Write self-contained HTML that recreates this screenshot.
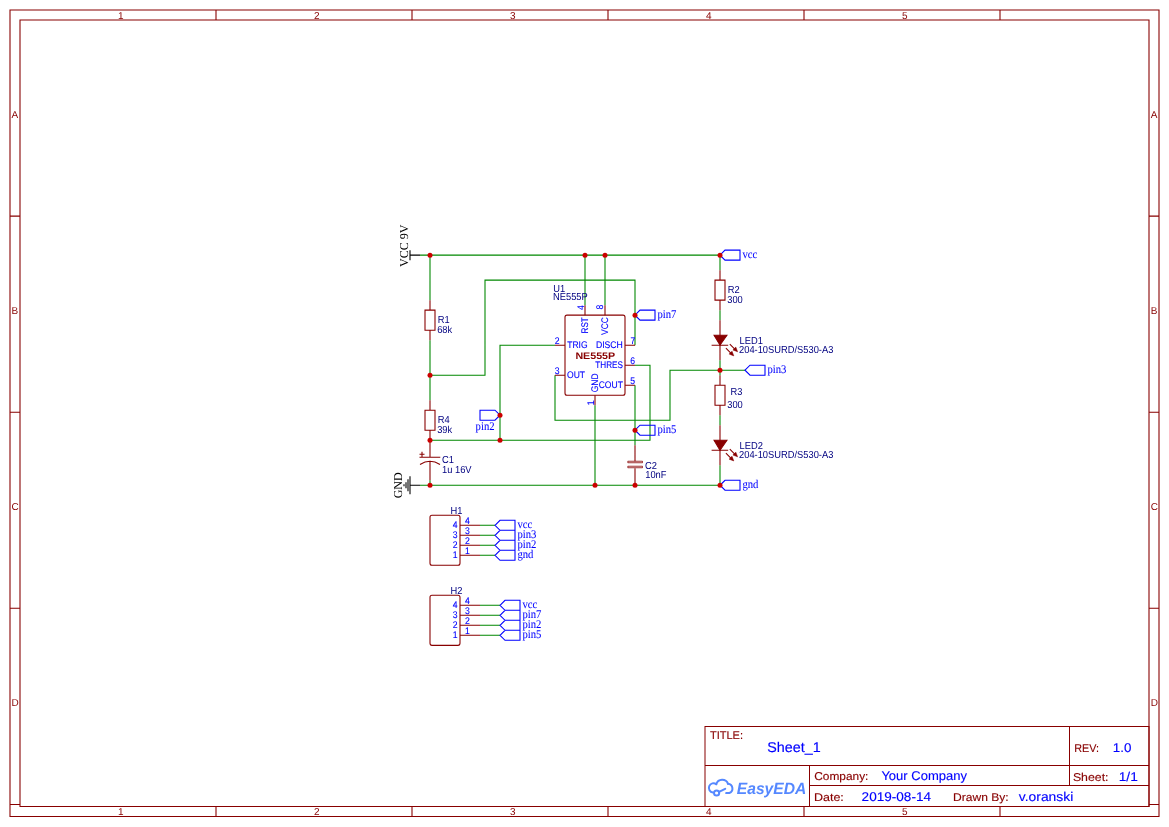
<!DOCTYPE html>
<html><head><meta charset="utf-8"><title>Sheet_1</title>
<style>html,body{margin:0;padding:0;background:#fff;overflow:hidden}svg{display:block;position:absolute;left:0;top:0}text{font-family:"Liberation Sans",sans-serif;white-space:pre;text-rendering:geometricPrecision}.se text{font-family:"Liberation Serif",serif}</style></head><body>
<svg width="1169" height="827" viewBox="0 0 1169 827" style="will-change:transform">
<rect x="0" y="0" width="1169" height="827" fill="#ffffff"/>
<g transform="matrix(1 0 0 1.00053 0 -0.0053)">
<g fill="none" stroke="#880000" stroke-width="1.08">
<path d="M10 10H1159V816H10Z"/>
<path d="M20 20H1149V806H20Z"/>
<path d="M216 10V20M216 806V816M412 10V20M412 806V816M608 10V20M608 806V816M804 10V20M804 806V816M1000 10V20M1000 806V816M10 216H20M1149 216H1159M10 412H20M1149 412H1159M10 608H20M1149 608H1159M10 804H20M1149 804H1159"/>
</g>
<g fill="none" stroke="#880000" stroke-width="1">
<path d="M705 726H1149V806H705Z"/>
<path d="M705 765H1149M809.5 765V806M809.5 785H1149M1069.5 726V785"/>
</g>
<path fill="none" stroke="#008800" stroke-width="1.08" d="M420 255H720M430 255V300M430 340V400M430 375H485V280H635V345M585 255V305M605 255V305M555 345H500V440M430 440H650V365H635M555 375V420H670V370H745M635 385V445M595 405V485M420 485H720M720 255V270M720 310V320M720 360V375M720 415V425M720 465V485M430 480V485M480 525H495M480 535H495M480 545H495M480 555H495M480 605H500M480 615H500M480 625H500M480 635H500"/>
<g fill="none" stroke="#880000" stroke-width="1.08">
<path d="M430 300V310M425 310H435V330H425ZM430 330V340M430 400V410M425 410H435V430H425ZM430 430V440M720 270V280M715 280H725V300H715ZM720 300V310M720 375V385M715 385H725V405H715ZM720 405V415M430 440V457M419.5 457H440.3M419.5 454H424.5M422 451.5V456.5M420 464.3Q430 457.7 440 464.3M430 461V480M635 445V461M635 468V485M585 305V315M605 305V315M555 345H565M555 375H565M625 345H635M625 365H635M625 385H635M595 395V405M460 525H480M460 535H480M460 545H480M460 555H480M460 605H480M460 615H480M460 625H480M460 635H480M720 320V360M711.6 345H728.2M729.8 343.9L735 349.1M725.9 348L731.1 353.2M720 425V465M711.6 450H728.2M729.8 448.9L735 454.1M725.9 453L731.1 458.2"/>
<rect x="565" y="315" width="60" height="80" rx="2" ry="2"/>
<path d="M627.8 461H642.5V462.5H627.8ZM627.8 466H642.5V467.5H627.8Z" stroke-width="0.8"/>
<rect x="430" y="515" width="30" height="50" rx="2" ry="2"/>
<rect x="430" y="595" width="30" height="50" rx="2" ry="2"/>
</g>
<g fill="#880000" stroke="#880000" stroke-width="1" stroke-linejoin="miter">
<path d="M714 335H727L720 345Z"/>
<path d="M737.6 351.6L732.9 349.8L735.8 346.9Z" stroke-width="0.5"/>
<path d="M733.8 355.7L729.1 353.9L732 351Z" stroke-width="0.5"/>
<path d="M714 440H727L720 450Z"/>
<path d="M737.6 456.6L732.9 454.8L735.8 451.9Z" stroke-width="0.5"/>
<path d="M733.8 460.7L729.1 458.9L732 456Z" stroke-width="0.5"/>
</g>
<path fill="none" stroke="#000000" stroke-width="1.08" d="M410 250V260M410 255H420M410 476V494M408 479V491M406 482V488M404 484V486M410 485H420"/>
<path fill="none" stroke="#0000ff" stroke-width="1.08" stroke-linejoin="miter" d="M720 255L725 250H740V260H725ZM635 315L640 310H655V320H640ZM745 370L750 365H765V375H750ZM635 430L640 425H655V435H640ZM720 485L725 480H740V490H725ZM500 415L495 410H480V420H495ZM495 525L500 520H515V530H500ZM495 535L500 530H515V540H500ZM495 545L500 540H515V550H500ZM495 555L500 550H515V560H500ZM500 605L505 600H520V610H505ZM500 615L505 610H520V620H505ZM500 625L505 620H520V630H505ZM500 635L505 630H520V640H505Z"/>
<g fill="#cc0000"><circle cx="430" cy="255" r="2.5"/><circle cx="585" cy="255" r="2.5"/><circle cx="605" cy="255" r="2.5"/><circle cx="720" cy="255" r="2.5"/><circle cx="635" cy="315" r="2.5"/><circle cx="430" cy="375" r="2.5"/><circle cx="500" cy="415" r="2.5"/><circle cx="430" cy="440" r="2.5"/><circle cx="500" cy="440" r="2.5"/><circle cx="635" cy="430" r="2.5"/><circle cx="720" cy="370" r="2.5"/><circle cx="430" cy="485" r="2.5"/><circle cx="595" cy="485" r="2.5"/><circle cx="635" cy="485" r="2.5"/><circle cx="720" cy="485" r="2.5"/></g>
</g>
<g fill="#880000" font-size="10">
<text x="118.0" y="18.8">1</text><text x="118.0" y="814.8">1</text>
<text x="314.0" y="18.8">2</text><text x="314.0" y="814.8">2</text>
<text x="510.0" y="18.8">3</text><text x="510.0" y="814.8">3</text>
<text x="706.0" y="18.8">4</text><text x="706.0" y="814.8">4</text>
<text x="902.0" y="18.8">5</text><text x="902.0" y="814.8">5</text>
<text x="11.6" y="118.0">A</text><text x="1150.8" y="118.0">A</text>
<text x="11.6" y="314.1">B</text><text x="1150.8" y="314.1">B</text>
<text x="11.6" y="510.2">C</text><text x="1150.8" y="510.2">C</text>
<text x="11.6" y="706.3">D</text><text x="1150.8" y="706.3">D</text>
</g>
<text x="709.9" y="739.2" font-size="11.3" fill="#880000" stroke="#880000" stroke-width="0.14" textLength="33.1" lengthAdjust="spacingAndGlyphs">TITLE:</text>
<text x="767.3" y="751.8" font-size="14.1" fill="#0000ff" stroke="#0000ff" stroke-width="0.14" textLength="53.5" lengthAdjust="spacingAndGlyphs">Sheet_1</text>
<text x="1074.3" y="752.4" font-size="11.3" fill="#880000" stroke="#880000" stroke-width="0.14" textLength="24.8" lengthAdjust="spacingAndGlyphs">REV:</text>
<text x="1112.8" y="752.4" font-size="12.7" fill="#0000ff" stroke="#0000ff" stroke-width="0.14" textLength="18.6" lengthAdjust="spacingAndGlyphs">1.0</text>
<text x="814.2" y="779.7" font-size="11.3" fill="#880000" stroke="#880000" stroke-width="0.14" textLength="54.2" lengthAdjust="spacingAndGlyphs">Company:</text>
<text x="881.4" y="779.7" font-size="12.7" fill="#0000ff" stroke="#0000ff" stroke-width="0.14" textLength="85.6" lengthAdjust="spacingAndGlyphs">Your Company</text>
<text x="1072.9" y="781.4" font-size="11.3" fill="#880000" stroke="#880000" stroke-width="0.14" textLength="35.6" lengthAdjust="spacingAndGlyphs">Sheet:</text>
<text x="1118.7" y="781.4" font-size="12.7" fill="#0000ff" stroke="#0000ff" stroke-width="0.14" textLength="19.1" lengthAdjust="spacingAndGlyphs">1/1</text>
<text x="814.0" y="801.3" font-size="11.3" fill="#880000" stroke="#880000" stroke-width="0.14" textLength="29.8" lengthAdjust="spacingAndGlyphs">Date:</text>
<text x="861.6" y="801.3" font-size="12.7" fill="#0000ff" stroke="#0000ff" stroke-width="0.14" textLength="69.4" lengthAdjust="spacingAndGlyphs">2019-08-14</text>
<text x="953.1" y="801.3" font-size="11.3" fill="#880000" stroke="#880000" stroke-width="0.14" textLength="55.6" lengthAdjust="spacingAndGlyphs">Drawn By:</text>
<text x="1018.8" y="801.3" font-size="12.7" fill="#0000ff" stroke="#0000ff" stroke-width="0.14" textLength="54.5" lengthAdjust="spacingAndGlyphs">v.oranski</text>
<g fill="none" stroke="#5588ff" stroke-width="2" stroke-linecap="round" stroke-linejoin="round">
<path d="M716.3 784.2A4.6 4.6 0 1 0 712.9 792.4"/>
<path d="M716.3 784.2A6.2 6.2 0 0 1 728 783.8"/>
<path d="M728 783.8A4.75 4.75 0 0 1 729.3 793L726.2 793.1"/>
<circle cx="716.6" cy="793" r="2.6"/>
<path d="M719 791.8L725.2 788.8"/>
</g>
<text x="736.8" y="794.4" font-size="16.3" font-weight="bold" font-style="italic" fill="#5588ff" textLength="69.5" lengthAdjust="spacingAndGlyphs">EasyEDA</text>
<g class="se" font-size="11.8" fill="#0000ff" stroke="#0000ff" stroke-width="0.05">
<text x="742.4" y="258" textLength="14.81" lengthAdjust="spacingAndGlyphs">vcc</text>
<text x="657.4" y="318" textLength="18.97" lengthAdjust="spacingAndGlyphs">pin7</text>
<text x="767.4" y="373" textLength="18.97" lengthAdjust="spacingAndGlyphs">pin3</text>
<text x="657.4" y="433" textLength="18.97" lengthAdjust="spacingAndGlyphs">pin5</text>
<text x="742.4" y="488" textLength="16.00" lengthAdjust="spacingAndGlyphs">gnd</text>
<text x="475.6" y="430" textLength="18.97" lengthAdjust="spacingAndGlyphs">pin2</text>
<text x="517.4" y="528" textLength="14.81" lengthAdjust="spacingAndGlyphs">vcc</text>
<text x="517.4" y="538" textLength="18.97" lengthAdjust="spacingAndGlyphs">pin3</text>
<text x="517.4" y="548" textLength="18.97" lengthAdjust="spacingAndGlyphs">pin2</text>
<text x="517.4" y="558" textLength="16.00" lengthAdjust="spacingAndGlyphs">gnd</text>
<text x="522.4" y="608" textLength="14.81" lengthAdjust="spacingAndGlyphs">vcc</text>
<text x="522.4" y="618" textLength="18.97" lengthAdjust="spacingAndGlyphs">pin7</text>
<text x="522.4" y="628" textLength="18.97" lengthAdjust="spacingAndGlyphs">pin2</text>
<text x="522.4" y="638" textLength="18.97" lengthAdjust="spacingAndGlyphs">pin5</text>
</g>
<g class="se" font-size="12" fill="#000000">
<text transform="translate(408.4 267.0) rotate(-90)">VCC 9V</text>
<text transform="translate(401.8 498.3) rotate(-90)">GND</text>
</g>
<g font-size="10.2" fill="#000080">
<text x="553.3" y="292" textLength="11.93" lengthAdjust="spacingAndGlyphs">U1</text>
<text x="553.0" y="300" textLength="34.75" lengthAdjust="spacingAndGlyphs">NE555P</text>
<text x="437.7" y="323" textLength="11.93" lengthAdjust="spacingAndGlyphs">R1</text>
<text x="437.2" y="333" textLength="15.04" lengthAdjust="spacingAndGlyphs">68k</text>
<text x="437.7" y="423" textLength="11.93" lengthAdjust="spacingAndGlyphs">R4</text>
<text x="437.2" y="433" textLength="15.04" lengthAdjust="spacingAndGlyphs">39k</text>
<text x="727.7" y="293" textLength="11.93" lengthAdjust="spacingAndGlyphs">R2</text>
<text x="727.2" y="303" textLength="15.57" lengthAdjust="spacingAndGlyphs">300</text>
<text x="730.6" y="395" textLength="11.93" lengthAdjust="spacingAndGlyphs">R3</text>
<text x="727.2" y="408" textLength="15.57" lengthAdjust="spacingAndGlyphs">300</text>
<text x="441.9" y="463" textLength="11.93" lengthAdjust="spacingAndGlyphs">C1</text>
<text x="442.0" y="473" textLength="29.57" lengthAdjust="spacingAndGlyphs">1u 16V</text>
<text x="644.9" y="469" textLength="11.93" lengthAdjust="spacingAndGlyphs">C2</text>
<text x="645.2" y="478" textLength="21.27" lengthAdjust="spacingAndGlyphs">10nF</text>
<text x="739.6" y="344" textLength="23.34" lengthAdjust="spacingAndGlyphs">LED1</text>
<text x="739.0" y="353" textLength="94.39" lengthAdjust="spacingAndGlyphs">204-10SURD/S530-A3</text>
<text x="739.6" y="449" textLength="23.34" lengthAdjust="spacingAndGlyphs">LED2</text>
<text x="739.0" y="458" textLength="94.39" lengthAdjust="spacingAndGlyphs">204-10SURD/S530-A3</text>
<text x="450.6" y="514" textLength="11.93" lengthAdjust="spacingAndGlyphs">H1</text>
<text x="450.6" y="594" textLength="11.93" lengthAdjust="spacingAndGlyphs">H2</text>
</g>
<g font-size="9.6" fill="#0000ff" stroke="#0000ff" stroke-width="0.12">
<text x="567.2" y="347.8" textLength="20.4" lengthAdjust="spacingAndGlyphs">TRIG</text>
<text x="567.0" y="377.8" textLength="18.0" lengthAdjust="spacingAndGlyphs">OUT</text>
<text x="622.9" y="347.8" text-anchor="end" textLength="27.0" lengthAdjust="spacingAndGlyphs">DISCH</text>
<text x="622.9" y="367.9" text-anchor="end" textLength="27.6" lengthAdjust="spacingAndGlyphs">THRES</text>
<text x="622.9" y="387.9" text-anchor="end" textLength="24.2" lengthAdjust="spacingAndGlyphs">COUT</text>
<text transform="translate(588.1 333.4) rotate(-90)" textLength="16.2" lengthAdjust="spacingAndGlyphs">RST</text>
<text transform="translate(608.3 335.0) rotate(-90)" textLength="17.9" lengthAdjust="spacingAndGlyphs">VCC</text>
<text transform="translate(598.4 392.3) rotate(-90)" textLength="18.9" lengthAdjust="spacingAndGlyphs">GND</text>
<text x="554.7" y="343.6" textLength="4.81" lengthAdjust="spacingAndGlyphs">2</text>
<text x="554.7" y="373.7" textLength="4.81" lengthAdjust="spacingAndGlyphs">3</text>
<text x="630.5" y="343.6" textLength="4.81" lengthAdjust="spacingAndGlyphs">7</text>
<text x="630.2" y="363.6" textLength="4.81" lengthAdjust="spacingAndGlyphs">6</text>
<text x="630.3" y="383.5" textLength="4.81" lengthAdjust="spacingAndGlyphs">5</text>
<text transform="translate(584.1 310.0) rotate(-90)" textLength="4.81" lengthAdjust="spacingAndGlyphs">4</text>
<text transform="translate(602.9 309.5) rotate(-90)" textLength="4.81" lengthAdjust="spacingAndGlyphs">8</text>
<text transform="translate(594.1 405.3) rotate(-90)" textLength="4.81" lengthAdjust="spacingAndGlyphs">1</text>
<text x="457.5" y="527.7" text-anchor="end" textLength="4.81" lengthAdjust="spacingAndGlyphs">4</text>
<text x="465.0" y="523.7" textLength="4.81" lengthAdjust="spacingAndGlyphs">4</text>
<text x="457.5" y="537.7" text-anchor="end" textLength="4.81" lengthAdjust="spacingAndGlyphs">3</text>
<text x="465.0" y="533.7" textLength="4.81" lengthAdjust="spacingAndGlyphs">3</text>
<text x="457.5" y="547.7" text-anchor="end" textLength="4.81" lengthAdjust="spacingAndGlyphs">2</text>
<text x="465.0" y="543.7" textLength="4.81" lengthAdjust="spacingAndGlyphs">2</text>
<text x="457.5" y="557.7" text-anchor="end" textLength="4.81" lengthAdjust="spacingAndGlyphs">1</text>
<text x="465.0" y="553.7" textLength="4.81" lengthAdjust="spacingAndGlyphs">1</text>
<text x="457.5" y="607.7" text-anchor="end" textLength="4.81" lengthAdjust="spacingAndGlyphs">4</text>
<text x="465.0" y="603.7" textLength="4.81" lengthAdjust="spacingAndGlyphs">4</text>
<text x="457.5" y="617.7" text-anchor="end" textLength="4.81" lengthAdjust="spacingAndGlyphs">3</text>
<text x="465.0" y="613.7" textLength="4.81" lengthAdjust="spacingAndGlyphs">3</text>
<text x="457.5" y="627.7" text-anchor="end" textLength="4.81" lengthAdjust="spacingAndGlyphs">2</text>
<text x="465.0" y="623.7" textLength="4.81" lengthAdjust="spacingAndGlyphs">2</text>
<text x="457.5" y="637.7" text-anchor="end" textLength="4.81" lengthAdjust="spacingAndGlyphs">1</text>
<text x="465.0" y="633.7" textLength="4.81" lengthAdjust="spacingAndGlyphs">1</text>
</g>
<text x="595.3" y="358.9" font-size="9.6" font-weight="bold" fill="#880000" text-anchor="middle" textLength="39.8" lengthAdjust="spacingAndGlyphs">NE555P</text>
</svg></body></html>
